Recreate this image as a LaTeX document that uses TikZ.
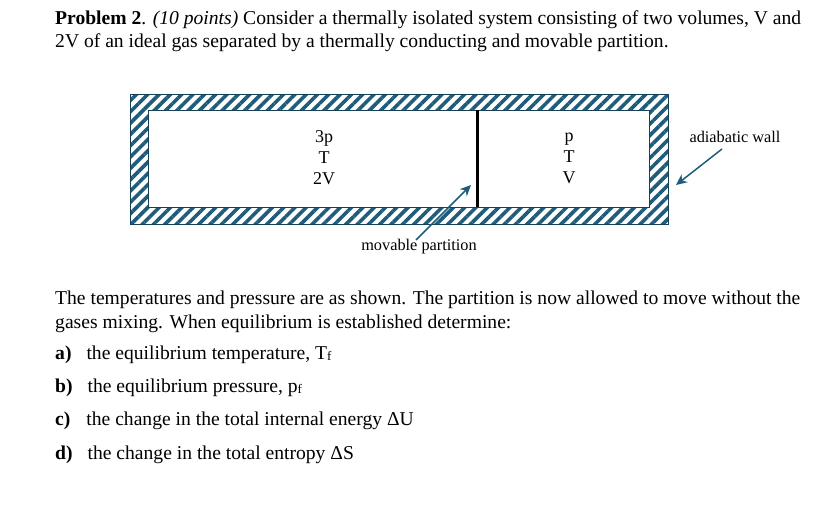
\documentclass[tikz,border=0pt]{standalone}
\usepackage{fontspec}
\setmainfont{Liberation Serif}
\usetikzlibrary{patterns.meta,arrows.meta}
\definecolor{wallc}{HTML}{1F5C7A}
\tikzset{
 txt/.style={anchor=base west,inner sep=0pt,font=\fontsize{19.6}{22}\selectfont},
 lbl/.style={inner sep=0pt,font=\fontsize{18}{21}\selectfont,align=center},
 small/.style={inner sep=0pt,font=\fontsize{16.3}{18}\selectfont},
 ptr/.style={draw=wallc,line width=1.5pt,-{Stealth[length=11pt,width=10pt]}}
}
\newcommand{\subf}{\raisebox{-1.5pt}{\fontsize{13}{14}\selectfont f}}
\begin{document}
\begin{tikzpicture}[x=1pt,y=-1pt]
\useasboundingbox (0,0) rectangle (827,525);
\node[txt] (t1) at (55,24) {\textbf{Problem 2}. \textit{(10 points)} Consider a thermally isolated system consisting of two volumes, V and};
\node[txt] (t2) at (55,47) {2V of an ideal gas separated by a thermally conducting and movable partition.};
% wall
\path[pattern={Lines[angle=45,distance=8pt,line width=3.6pt]},pattern color=wallc,draw=wallc!70!black,line width=1pt]
 (130,94) rectangle (668,224);
\draw[fill=white,draw=wallc!70!black,line width=1pt] (148,110) rectangle (649,207);
\draw[line width=3pt] (477,110) -- (477,207);
\node[lbl] (L) at (324,158) {3p\\T\\2V};
\node[lbl] (R) at (569,158) {p\\T\\V};
\coordinate (pt) at (471,185);
\coordinate (wt) at (676,185);
\node[small] (mp) at (419,247) {movable partition};
\node[small] (aw) at (735,137) {adiabatic wall};
\draw[ptr] (416,240) -- (pt);
\draw[ptr] (722,149) -- (wt);
\node[txt] (p1) at (55,304) {The temperatures and pressure are as shown. The partition is now allowed to move without the};
\node[txt] (p2) at (55,328) {gases mixing. When equilibrium is established determine:};
\node[txt] (a) at (55,359) {\textbf{a)}\hspace{15pt}the equilibrium temperature, T\subf};
\node[txt] (b) at (55,392) {\textbf{b)}\hspace{15pt}the equilibrium pressure, p\subf};
\node[txt] (c) at (55,425) {\textbf{c)}\hspace{16pt}the change in the total internal energy ΔU};
\node[txt] (d) at (55,459) {\textbf{d)}\hspace{15pt}the change in the total entropy ΔS};
\end{tikzpicture}
\end{document}
